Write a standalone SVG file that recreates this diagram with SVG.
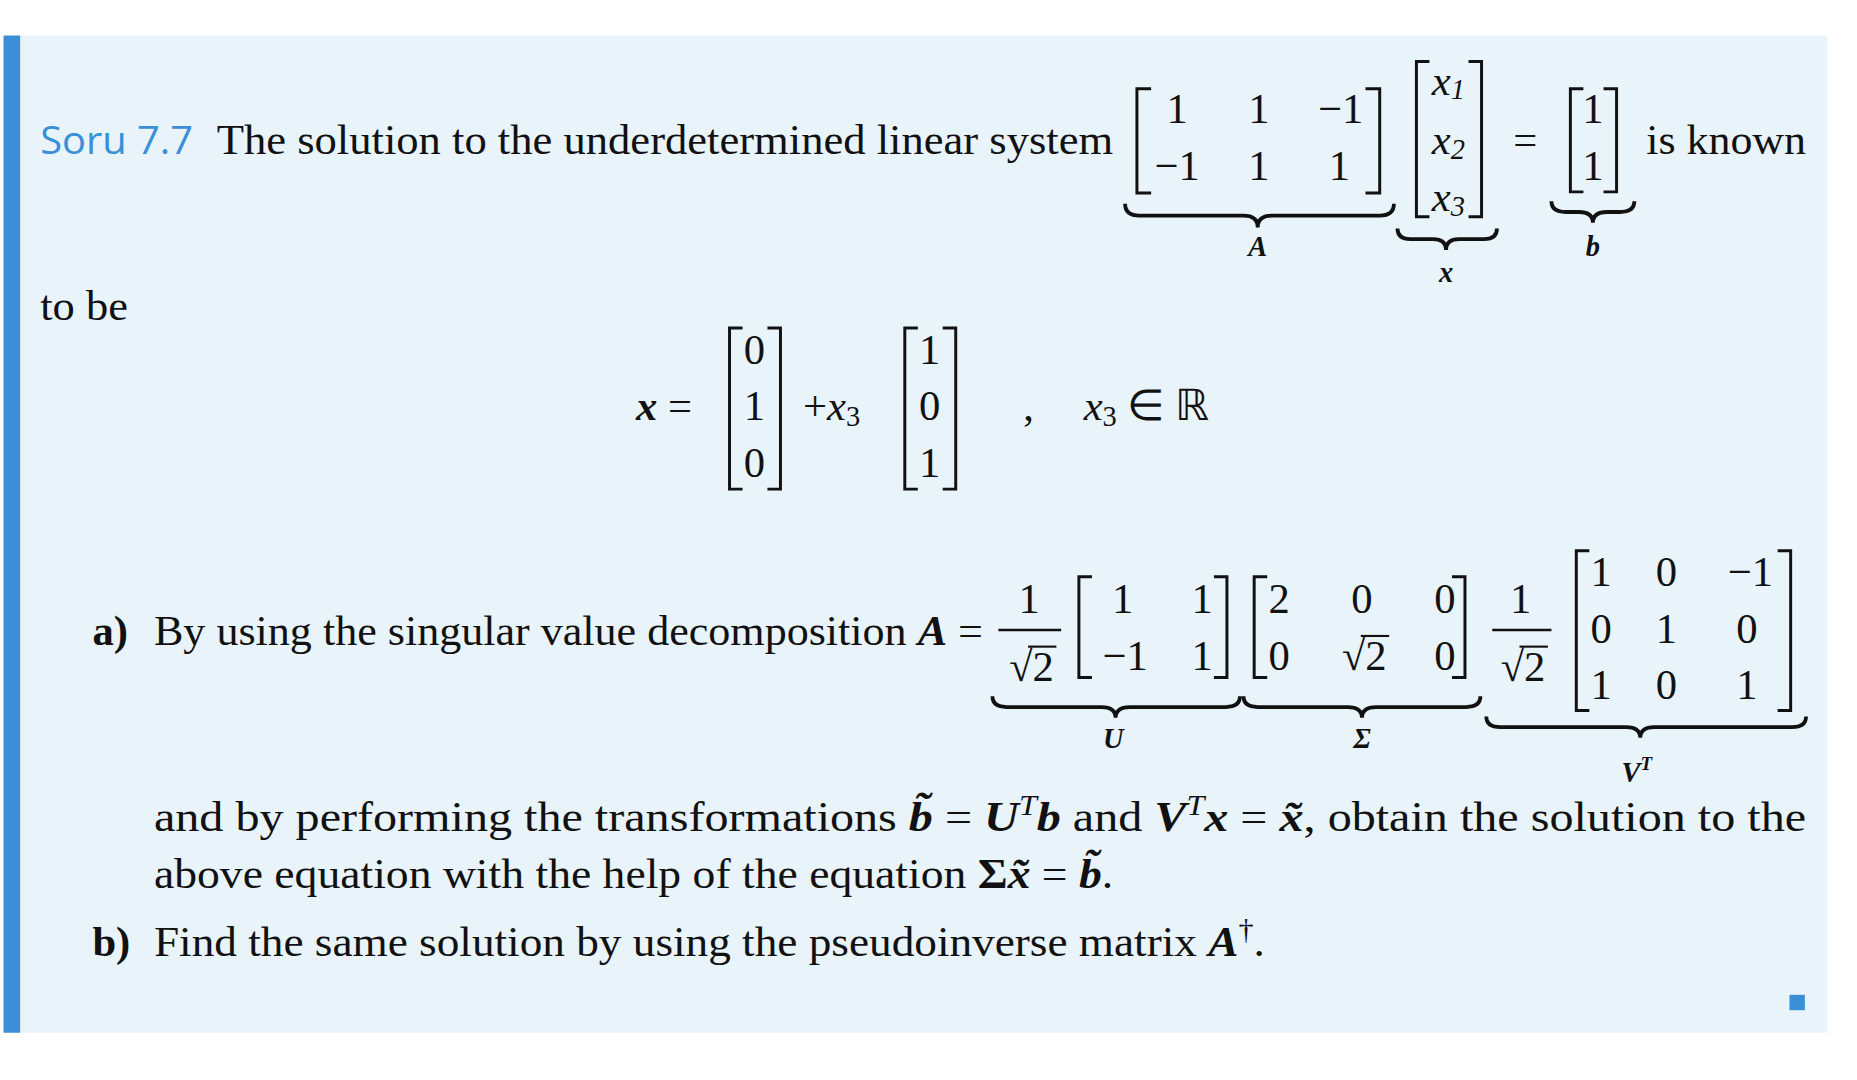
<svg xmlns="http://www.w3.org/2000/svg" width="1857" height="1080" viewBox="0 0 1857 1080">
<style>
.t{font-family:"Liberation Serif",serif;font-size:36px;fill:#111}
.m{font-family:"Liberation Serif",serif;font-size:36px;fill:#111;text-anchor:middle}
.bi{font-weight:bold;font-style:italic}
.i{font-style:italic}
.lab{font-family:"Liberation Serif",serif;font-size:24px;font-weight:bold;font-style:italic;fill:#111;text-anchor:middle}
.br{fill:none;stroke:#111;stroke-width:2.5}
.ub{fill:none;stroke:#111;stroke-width:3.2}
</style>
<rect width="1857" height="1080" fill="#fff"/>
<g transform="scale(1.1843)">
<rect x="3" y="30" width="1540" height="842" fill="#E8F3FA"/>
<rect x="3" y="30" width="14" height="842" fill="#3A8FD6"/>
<g id="header">
<text x="34" y="130" font-family="Open Sans,sans-serif" font-size="33" fill="#3A8FD6" textLength="129" lengthAdjust="spacingAndGlyphs">Soru 7.7</text>
<text class="t" x="183" y="130" textLength="757" lengthAdjust="spacingAndGlyphs">The solution to the underdetermined linear system</text>
<text class="t" x="1390" y="130" textLength="135" lengthAdjust="spacingAndGlyphs">is known</text>
</g>
<g id="matA">
<path class="br" d="M972,75 H960 V163 H972 M1153,75 H1165 V163 H1153"/>
<text class="m" x="994" y="104">1</text><text class="m" x="1063" y="104">1</text><text class="m" x="1132" y="104">−1</text>
<text class="m" x="994" y="152">−1</text><text class="m" x="1063" y="152">1</text><text class="m" x="1131" y="152">1</text>
<path class="ub" d="M950,172 q0,10 12,10 H1050 q12,0 12,10 q0,-10 12,-10 H1165 q12,0 12,-10"/>
<text class="lab" x="1062" y="216">A</text>
</g>
<g id="vecx">
<path class="br" d="M1207,52 H1196 V183 H1207 M1240,52 H1251 V183 H1240"/>
<text class="m i" x="1223" y="80">x<tspan font-size="24" dy="4">1</tspan></text>
<text class="m i" x="1223" y="130">x<tspan font-size="24" dy="4">2</tspan></text>
<text class="m i" x="1223" y="178">x<tspan font-size="24" dy="4">3</tspan></text>
<path class="ub" d="M1180,193 q0,9 11,9 H1210 q11,0 11,9 q0,-9 11,-9 H1253 q11,0 11,-9"/>
<text class="lab" x="1221" y="238">x</text>
</g>
<text class="m" x="1288" y="130">=</text>
<g id="vecb">
<path class="br" d="M1337,75 H1326 V162 H1337 M1354,75 H1365 V162 H1354"/>
<text class="m" x="1345" y="104">1</text><text class="m" x="1345" y="152">1</text>
<path class="ub" d="M1310,170 q0,9 12,9 H1333 q12,0 12,9 q0,-9 12,-9 H1368 q12,0 12,-9"/>
<text class="lab" x="1345" y="216">b</text>
</g>
<text class="t" x="34" y="270" textLength="74" lengthAdjust="spacingAndGlyphs">to be</text>
<g id="solution">
<text class="t" x="537" y="355"><tspan class="bi">x</tspan> =</text>
<path class="br" d="M627,277 H616 V413 H627 M648,277 H659 V413 H648"/>
<text class="m" x="637" y="307">0</text><text class="m" x="637" y="355">1</text><text class="m" x="637" y="403">0</text>
<text class="t" x="678" y="355">+<tspan class="i">x</tspan><tspan font-size="24" dy="5">3</tspan></text>
<path class="br" d="M775,277 H764 V413 H775 M796,277 H807 V413 H796"/>
<text class="m" x="785" y="307">1</text><text class="m" x="785" y="355">0</text><text class="m" x="785" y="403">1</text>
<text class="t" x="864" y="355">,</text>
<text class="t" x="915" y="355"><tspan class="i">x</tspan><tspan font-size="24" dy="5">3</tspan><tspan dy="-5"> ∈ ℝ</tspan></text>
</g>
<g id="parta">
<text class="t" x="78" y="545"><tspan font-weight="bold">a)</tspan></text>
<text class="t" x="130" y="545" textLength="700" lengthAdjust="spacingAndGlyphs">By using the singular value decomposition <tspan class="bi">A</tspan> =</text>
<text class="m" x="869" y="518">1</text>
<line x1="843" y1="532" x2="896" y2="532" stroke="#111" stroke-width="2"/>
<text class="m" x="871" y="575">√2</text>
<line x1="868" y1="546" x2="892" y2="546" stroke="#111" stroke-width="1.8"/>
<path class="br" d="M922,487 H911 V572 H922 M1025,487 H1036 V572 H1025"/>
<text class="m" x="948" y="518">1</text><text class="m" x="1015" y="518">1</text>
<text class="m" x="950" y="566">−1</text><text class="m" x="1015" y="566">1</text>
<path class="br" d="M1070,487 H1059 V572 H1070 M1226,487 H1237 V572 H1226"/>
<text class="m" x="1080" y="518">2</text><text class="m" x="1150" y="518">0</text><text class="m" x="1220" y="518">0</text>
<text class="m" x="1080" y="566">0</text><text class="m" x="1152" y="566">√2</text><text class="m" x="1220" y="566">0</text>
<line x1="1149" y1="537" x2="1173" y2="537" stroke="#111" stroke-width="1.8"/>
<text class="m" x="1284" y="518">1</text>
<line x1="1260" y1="532" x2="1310" y2="532" stroke="#111" stroke-width="2"/>
<text class="m" x="1286" y="575">√2</text>
<line x1="1283" y1="546" x2="1307" y2="546" stroke="#111" stroke-width="1.8"/>
<path class="br" d="M1342,465 H1331 V600 H1342 M1501,465 H1512 V600 H1501"/>
<text class="m" x="1352" y="495">1</text><text class="m" x="1407" y="495">0</text><text class="m" x="1478" y="495">−1</text>
<text class="m" x="1352" y="543">0</text><text class="m" x="1407" y="543">1</text><text class="m" x="1475" y="543">0</text>
<text class="m" x="1352" y="590">1</text><text class="m" x="1407" y="590">0</text><text class="m" x="1475" y="590">1</text>
<path class="ub" d="M838,588 q0,9 12,9 H930 q12,0 12,9 q0,-9 12,-9 H1035 q12,0 12,-9"/>
<text class="lab" x="940" y="632">U</text>
<path class="ub" d="M1050,588 q0,9 12,9 H1138 q12,0 12,9 q0,-9 12,-9 H1238 q12,0 12,-9"/>
<text class="lab" x="1150" y="632">Σ</text>
<path class="ub" d="M1255,605 q0,9 12,9 H1373 q12,0 12,9 q0,-9 12,-9 H1513 q12,0 12,-9"/>
<text class="lab" x="1382" y="660">V<tspan font-size="16" dy="-10">T</tspan></text>
<text class="t" x="130" y="702" textLength="1395" lengthAdjust="spacingAndGlyphs">and by performing the transformations <tspan class="bi">b̃</tspan> = <tspan class="bi">U</tspan><tspan class="i" font-size="24" dy="-14">T</tspan><tspan class="bi" dy="14">b</tspan> and <tspan class="bi">V</tspan><tspan class="i" font-size="24" dy="-14">T</tspan><tspan class="bi" dy="14">x</tspan> = <tspan class="bi">x̃</tspan>, obtain the solution to the</text>
<text class="t" x="130" y="750" textLength="810" lengthAdjust="spacingAndGlyphs">above equation with the help of the equation <tspan font-weight="bold">Σ</tspan><tspan class="bi">x̃</tspan> = <tspan class="bi">b̃</tspan>.</text>
</g>
<g id="partb">
<text class="t" x="78" y="807"><tspan font-weight="bold">b)</tspan></text>
<text class="t" x="130" y="807" textLength="938" lengthAdjust="spacingAndGlyphs">Find the same solution by using the pseudoinverse matrix <tspan class="bi">A</tspan><tspan font-size="24" dy="-14">†</tspan><tspan dy="14">.</tspan></text>
</g>
<rect x="1511" y="840" width="13" height="13" fill="#3A8FD6"/>
</g>
</svg>
